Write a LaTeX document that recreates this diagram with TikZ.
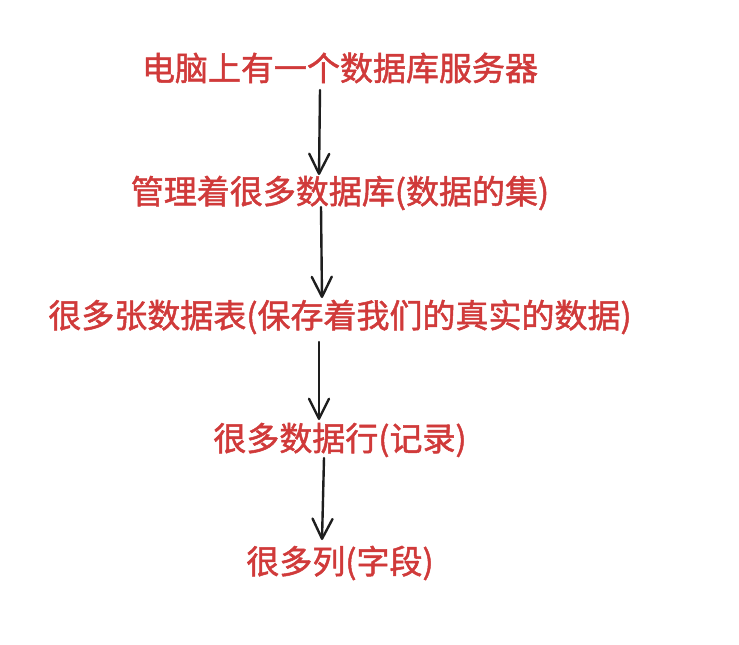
\documentclass[tikz,border=0pt]{standalone}
\usepackage{fontspec}
\newfontfamily\cjk[FakeBold=1.5]{Noto Sans CJK SC}
\usetikzlibrary{arrows.meta}
\definecolor{txtred}{HTML}{D03A3A}
\definecolor{ink}{HTML}{1E1E1E}
\tikzset{lbl/.style={text=txtred,font=\cjk\fontsize{33}{36}\selectfont,inner sep=0pt},
 conn/.style={draw=ink,line width=2.4pt,line cap=round,-{Straight Barb[length=20pt,width=20pt,line width=2.4pt,round]}}}
\begin{document}
\begin{tikzpicture}[x=1pt,y=-1pt]
\useasboundingbox (0,0) rectangle (739,645);
\node[lbl] (t1) at (340,68) {电脑上有一个数据库服务器};
\node[lbl] (t2) at (340,193) {管理着很多数据库(数据的集)};
\node[lbl] (t3) at (340,317) {很多张数据表(保存着我们的真实的数据)};
\node[lbl] (t4) at (340,440) {很多数据行(记录)};
\node[lbl] (t5) at (340,563) {很多列(字段)};
\coordinate (a1) at (320,90); \coordinate (b1) at (319,175);
\coordinate (a2) at (321,207); \coordinate (b2) at (322,298);
\coordinate (a3) at (319,342); \coordinate (b3) at (319,420);
\coordinate (a4) at (324,458); \coordinate (b4) at (322,540);
\draw[conn] (a1) -- (b1);
\draw[conn] (a2) -- (b2);
\draw[conn] (a3) -- (b3);
\draw[conn] (a4) -- (b4);
\end{tikzpicture}
\end{document}
